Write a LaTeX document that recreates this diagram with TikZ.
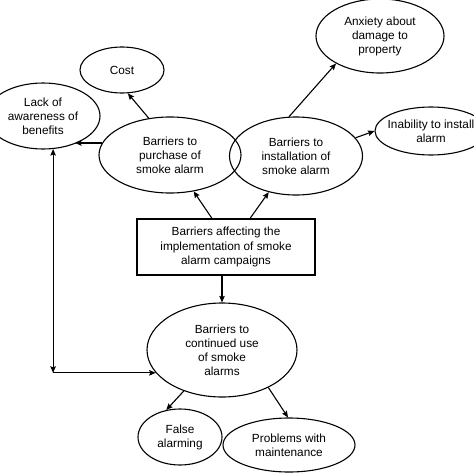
\documentclass[tikz,border=0pt]{standalone}
\usepackage{fontspec}
\setmainfont{Liberation Sans}
\usetikzlibrary{shapes.geometric,arrows.meta}
\tikzset{
  bub/.style={ellipse, draw, line width=1.1pt, inner sep=0pt},
  lbl/.style={align=center, inner sep=0pt, font=\fontsize{11.8}{14}\selectfont},
  boxnode/.style={rectangle, draw, line width=1.1pt, inner sep=0pt, align=center, font=\fontsize{11.8}{14.2}\selectfont},
  arr/.style={line width=1.1pt, -{Stealth[length=6.5pt,width=5.5pt,inset=1pt]}},
  arrtwo/.style={line width=1.1pt, {Stealth[length=6.5pt,width=5.5pt,inset=1pt]}-{Stealth[length=6.5pt,width=5.5pt,inset=1pt]}}
}
\begin{document}
\begin{tikzpicture}[x=1pt,y=-1pt]
\useasboundingbox (0,0) rectangle (474,474);
\fill[white] (0,0) rectangle (474,474);
\clip (0,0) rectangle (474,474);

\node[bub, minimum width=84pt, minimum height=46pt, label={[lbl]center:Cost}] (cost) at (122,70) {};
\node[bub, minimum width=114pt, minimum height=66pt, label={[lbl]center:Lack of\\awareness of\\benefits}] (lack) at (43,116) {};
\node[bub, minimum width=142pt, minimum height=76pt, label={[lbl]center:Barriers to\\purchase of\\smoke alarm}] (purch) at (170,155) {};
\node[bub, minimum width=133pt, minimum height=78pt, label={[lbl]center:Barriers to\\installation of\\smoke alarm}] (inst) at (296,156) {};
\node[bub, minimum width=128pt, minimum height=74pt, label={[lbl]center:Anxiety about\\damage to\\property}] (anx) at (380,36) {};
\node[bub, minimum width=112pt, minimum height=48pt, label={[lbl]center:Inability to install\\alarm}] (inab) at (431,131) {};
\node[boxnode, minimum width=178pt, minimum height=56pt] (box) at (226,247) {Barriers affecting the\\implementation of smoke\\alarm campaigns};
\node[bub, minimum width=150pt, minimum height=94pt, label={[lbl]center:Barriers to\\continued use\\of smoke\\alarms}] (cont) at (222,350) {};
\node[bub, minimum width=84pt, minimum height=56pt, label={[lbl]center:False\\alarming}] (false) at (180,437) {};
\node[bub, minimum width=132pt, minimum height=54pt, label={[lbl]center:Problems with\\maintenance}] (prob) at (289,445) {};

\draw[arr] (purch.120) -- (cost.-76);
\draw[arr] (purch.170) -- (purch.170 -| lack.-41);
\draw[arr] ([xshift=-14pt]box.north) -- (purch.-57);
\draw[arr] ([xshift=24pt]box.north) -- (inst.-127);
\draw[arr] (inst.100) -- (anx.-148);
\draw[arr] (inst.17) -- (inab.180);
\draw[arr] (cont.north |- box.south) -- (cont.north);
\draw[arr] (cont.-133.6) -- (false.117);
\draw[arr] (cont.-39.4) -- (prob.92);
\coordinate (corner) at (lack.-73 |- cont.-161.6);
\draw[arrtwo] (lack.-73) -- (corner);
\draw[arr] (corner) -- (cont.-161.6);
\end{tikzpicture}
\end{document}
